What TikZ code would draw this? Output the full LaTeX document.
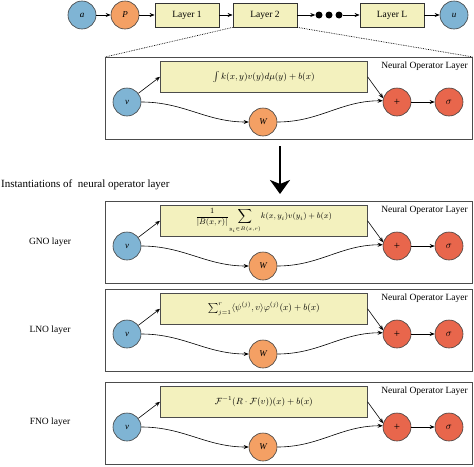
\documentclass[tikz,border=0pt]{standalone}
\usepackage{fontspec}
\setmainfont{Liberation Serif}
\usetikzlibrary{arrows.meta}
\definecolor{cblue}{RGB}{127,180,212}
\definecolor{corange}{RGB}{244,160,100}
\definecolor{cred}{RGB}{232,102,76}
\definecolor{cyel}{RGB}{243,241,190}
\tikzset{
  circ/.style={circle,draw=black!75,line width=0.6pt,minimum size=28pt,inner sep=0pt,font=\fontsize{9}{10}\selectfont\itshape},
  inp/.style={circ,fill=cblue},
  wnode/.style={circ,fill=corange},
  rnode/.style={circ,fill=cred},
  layerbox/.style={draw=black!80,line width=0.8pt,fill=cyel,minimum width=64pt,minimum height=24pt,inner sep=0pt,font=\fontsize{9.5}{11}\selectfont},
  opbox/.style={draw=black!70,line width=1.1pt,minimum width=367pt,minimum height=82pt,inner sep=0pt,anchor=north west},
  formula/.style={draw=black!70,fill=cyel,line width=0.6pt,minimum width=207pt,minimum height=31pt,inner sep=0pt,anchor=north west,font=\small},
  arr/.style={-{Stealth[length=5pt,width=4pt]},line width=0.6pt},
  lab/.style={font=\fontsize{9.5}{11}\selectfont},
  dotnode/.style={circle,fill=black,minimum size=7pt,inner sep=0pt}
}
\newcommand\oplayer[3]{%
  \node[opbox] (#1box) at (105,#2) {};
  \node[formula] (#1f) at (160,#2+4) {#3};
  \node[inp] (#1v) at (127,#2+45) {v};
  \node[wnode] (#1w) at (263,#2+65) {W};
  \node[rnode,font=\fontsize{11}{12}\selectfont] (#1p) at (397,#2+45) {+};
  \node[rnode,font=\normalsize] (#1s) at (449,#2+45) {$\sigma$};
  \node[lab,anchor=north east,inner sep=1pt] (#1l) at (469,#2+4) {Neural Operator Layer};
  \draw[arr] (#1v) -- (#1f.west);
  \draw[arr] (#1f.east) -- (#1p.165);
  \draw[arr] (#1v.east) to[out=0,in=180] (#1w.west);
  \draw[arr] (#1w.east) to[out=0,in=180] (#1p.175);
  \draw[arr] (#1p) -- (#1s);
}
\begin{document}
\begin{tikzpicture}[x=1pt,y=-1pt]
\useasboundingbox (0,0) rectangle (474,466);
% top row
\node[inp] (a) at (82,15) {a};
\node[wnode] (P) at (125,15) {P};
\node[layerbox] (L1) at (187,15) {Layer 1};
\node[layerbox] (L2) at (265,15) {Layer 2};
\node[dotnode] (d1) at (319,15) {};
\node[dotnode] (d2) at (329,15) {};
\node[dotnode] (d3) at (339,15) {};
\node[layerbox] (LL) at (392,15) {Layer L};
\node[inp] (u) at (454,15) {u};
\draw[arr] (a) -- (P);
\draw[arr] (P) -- (L1);
\draw[arr] (L1) -- (L2);
\draw[arr] (L2) -- (d1);
\draw[arr] (d3) -- (LL);
\draw[arr] (LL) -- (u);
% expanded layer
\oplayer{b1}{57}{$\int k(x,y)v(y)d\mu(y)+b(x)$}
\draw[densely dotted,line width=0.7pt] (L2.south west) -- (b1box.north west);
\draw[densely dotted,line width=0.7pt] (L2.south east) -- (b1box.north east);
% big arrow
\coordinate (bigA) at (280,146);
\coordinate (bigB) at (280,194);
\draw[line width=2.5pt,-{Stealth[length=14pt,width=20pt,inset=4pt]}] (bigA) -- (bigB);
\node[font=\fontsize{11}{13}\selectfont,anchor=west,inner sep=1pt] (inst) at (0,185) {Instantiations of\ \ neural operator layer};
% GNO
\oplayer{g}{201}{{\footnotesize$\displaystyle\frac{1}{|B(x,r)|}\!\sum\limits_{\scriptscriptstyle y_i\in B(x,r)}\! k(x,y_i)v(y_i)+b(x)$}}
\node[lab] (gl) at (50,242) {GNO layer};
% LNO
\oplayer{l}{289}{$\sum_{j=1}^{r}\langle\psi^{(j)},v\rangle\varphi^{(j)}(x)+b(x)$}
\node[lab] (ll) at (50,330) {LNO layer};
% FNO
\oplayer{f}{382}{$\mathcal{F}^{-1}(R\cdot\mathcal{F}(v))(x)+b(x)$}
\node[lab] (fl) at (50,422) {FNO layer};
\end{tikzpicture}
\end{document}
